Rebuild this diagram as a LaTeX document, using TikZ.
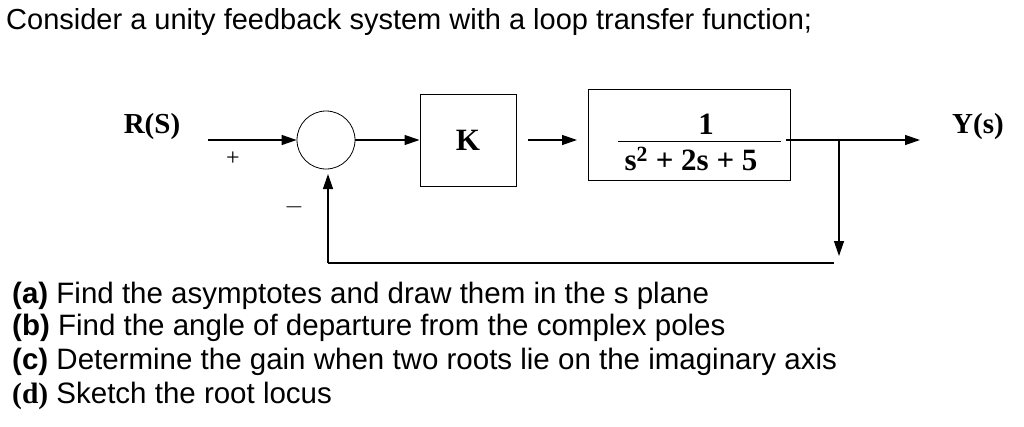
\documentclass[tikz,border=0pt]{standalone}
\usepackage{fontspec}
\setmainfont{Liberation Sans}
\newfontfamily\tms{Liberation Serif}
\usetikzlibrary{arrows.meta}
\begin{document}
\begin{tikzpicture}[x=1pt,y=-1pt,
  ln/.style={line width=1.3pt},
  arr/.style={ln,-{Triangle[length=15pt,width=10pt]}},
  blk/.style={draw,line width=1pt,inner sep=0pt},
  tx/.style={inner sep=0pt,anchor=west,font=\fontsize{29.5}{32}\selectfont}]
\useasboundingbox (0,0) rectangle (1024,426);
\node[tx,font=\fontsize{29}{32}\selectfont] (title) at (6,22) {Consider a unity feedback system with a loop transfer function;};
\node[circle,draw,line width=0.8pt,minimum size=58pt,inner sep=0pt] (sum) at (326,140) {};
\node[blk,minimum width=96pt,minimum height=92pt] (K) at (468,140) {\tms\bfseries\fontsize{31}{32}\selectfont K};
\node[blk,minimum width=202pt,minimum height=91pt] (G) at (689,134.5) {};
\node[inner sep=0pt] (num) at (706,124) {\tms\bfseries\fontsize{31}{32}\selectfont 1};
\node[inner sep=0pt] (den) at (691,159) {\tms\bfseries\fontsize{31}{32}\selectfont s\textsuperscript{2} + 2s + 5};
\draw[line width=0.8pt] (618,141) -- (781,141);
\coordinate (in) at (208,140);
\coordinate (br) at (839,140);
\coordinate (out) at (920,140);
\coordinate (dn) at (839,256);
\coordinate (bl) at (834,263);
\coordinate (bs) at (328,263);
\coordinate (up) at (328,174);
\coordinate (kout) at (528,140);
\coordinate (gin) at (577,140);
\coordinate (gout) at (786,140);
\draw[arr] (in) -- (sum);
\draw[arr] (sum) -- (K);
\draw[arr] (kout) -- (gin);
\draw[arr] (gout) -- (out);
\draw[arr] (br) -- (dn);
\draw[ln] (bl) -- (bs);
\draw[arr] (bs) -- (up);
\node[inner sep=0pt] (R) at (152,127) {\tms\bfseries\fontsize{29}{32}\selectfont R(S)};
\node[inner sep=0pt] (Y) at (978,127) {\tms\bfseries\fontsize{29}{32}\selectfont Y(s)};
\node[inner sep=0pt] (plus) at (233,159) {\tms\fontsize{24}{26}\selectfont +};
\node[inner sep=0pt] (minus) at (294,207) {\tms\fontsize{24}{26}\selectfont $-$};
\node[tx] (qa) at (12,296) {\textbf{(a)} Find the asymptotes and draw them in the s plane};
\node[tx] (qb) at (12,328) {\textbf{(b)} Find the angle of departure from the complex poles};
\node[tx] (qc) at (12,362) {\textbf{(c)} Determine the gain when two roots lie on the imaginary axis};
\node[tx] (qd) at (12,396) {{\tms\bfseries (d)} Sketch the root locus};
\end{tikzpicture}
\end{document}
